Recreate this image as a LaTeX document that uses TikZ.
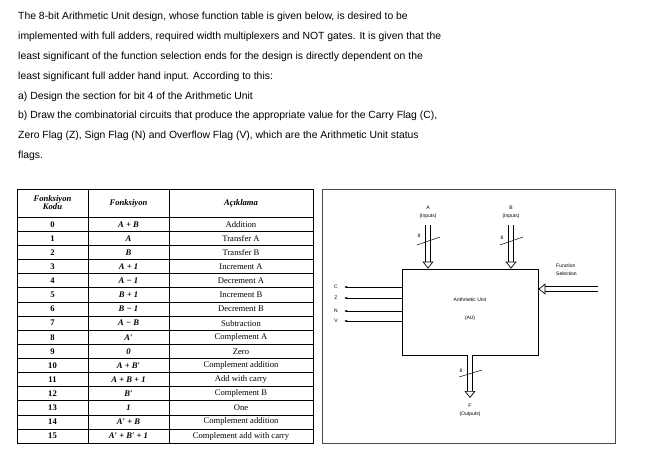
\documentclass[tikz,border=0pt]{standalone}
\usepackage{fontspec}
\setmainfont{Liberation Sans}
\newfontfamily\tabfont{Liberation Serif}
\usetikzlibrary{arrows.meta}
\tikzset{
  para/.style={anchor=west,inner sep=0pt,font=\fontsize{10.4}{12}\selectfont},
  cell/.style={inner sep=0pt,font=\tabfont\fontsize{8.6}{9}\selectfont},
  kc/.style={cell,font=\tabfont\bfseries\fontsize{8.6}{9}\selectfont},
  fc/.style={cell,font=\tabfont\bfseries\itshape\fontsize{8.6}{9}\selectfont},
  tl/.style={line width=0.6pt},
  tiny/.style={inner sep=0pt,font=\fontsize{5}{6}\selectfont},
  bus/.style={double,double distance=4pt,line width=0.7pt,-{Triangle[open,width=11pt,length=7pt]}},
  flag/.style={line width=0.6pt,-{Latex[length=3pt,width=2.5pt]}},
}
\begin{document}
\begin{tikzpicture}[x=1pt,y=-1pt]
\useasboundingbox (0,0) rectangle (646,469);
% paragraph
\node[para] (p1) at (18,17) {The 8-bit Arithmetic Unit design, whose function table is given below, is desired to be};
\node[para] (p2) at (18,37) {implemented with full adders, required width multiplexers and NOT gates. It is given that the};
\node[para] (p3) at (18,57) {least significant of the function selection ends for the design is directly dependent on the};
\node[para] (p4) at (18,77) {least significant full adder hand input. According to this:};
\node[para] (p5) at (18,97) {a) Design the section for bit 4 of the Arithmetic Unit};
\node[para] (p6) at (18,116) {b) Draw the combinatorial circuits that produce the appropriate value for the Carry Flag (C),};
\node[para] (p7) at (18,136) {Zero Flag (Z), Sign Flag (N) and Overflow Flag (V), which are the Arithmetic Unit status};
\node[para] (p8) at (18,156) {flags.};
% table
\draw[tl] (17,189) rectangle (313,443);
\draw[tl] (88,189) -- (88,443);
\draw[tl] (169,189) -- (169,443);
\draw[tl] (17,217) -- (313,217);
\foreach \i in {1,...,15} \draw[line width=0.4pt] (17,217+\i*14.125) -- (313,217+\i*14.125);
\node[fc,align=center] (h1) at (52.5,203) {Fonksiyon\\[-1pt]Kodu};
\node[fc] (h2) at (128.5,203) {Fonksiyon};
\node[fc] (h3) at (241,203) {Açıklama};
\node[kc] (c0) at (52.5,224.2) {0};   \node[fc] (f0) at (128.5,224.2) {A + B};      \node[cell] (d0) at (241,224.2) {Addition};
\node[kc] (c1) at (52.5,238.3) {1};   \node[fc] (f1) at (128.5,238.3) {A};          \node[cell] (d1) at (241,238.3) {Transfer A};
\node[kc] (c2) at (52.5,252.5) {2};   \node[fc] (f2) at (128.5,252.5) {B};          \node[cell] (d2) at (241,252.5) {Transfer B};
\node[kc] (c3) at (52.5,266.6) {3};   \node[fc] (f3) at (128.5,266.6) {A + 1};      \node[cell] (d3) at (241,266.6) {Increment A};
\node[kc] (c4) at (52.5,280.7) {4};   \node[fc] (f4) at (128.5,280.7) {A − 1};      \node[cell] (d4) at (241,280.7) {Decrement A};
\node[kc] (c5) at (52.5,294.8) {5};   \node[fc] (f5) at (128.5,294.8) {B + 1};      \node[cell] (d5) at (241,294.8) {Increment B};
\node[kc] (c6) at (52.5,308.9) {6};   \node[fc] (f6) at (128.5,308.9) {B − 1};      \node[cell] (d6) at (241,308.9) {Decrement B};
\node[kc] (c7) at (52.5,323.1) {7};   \node[fc] (f7) at (128.5,323.1) {A − B};      \node[cell] (d7) at (241,323.1) {Subtraction};
\node[kc] (c8) at (52.5,337.2) {8};   \node[fc] (f8) at (128.5,337.2) {A′};         \node[cell] (d8) at (241,337.2) {Complement A};
\node[kc] (c9) at (52.5,351.3) {9};   \node[fc] (f9) at (128.5,351.3) {0};          \node[cell] (d9) at (241,351.3) {Zero};
\node[kc] (c10) at (52.5,365.4) {10}; \node[fc] (f10) at (128.5,365.4) {A + B′};    \node[cell] (d10) at (241,365.4) {Complement addition};
\node[kc] (c11) at (52.5,379.6) {11}; \node[fc] (f11) at (128.5,379.6) {A + B + 1}; \node[cell] (d11) at (241,379.6) {Add with carry};
\node[kc] (c12) at (52.5,393.7) {12}; \node[fc] (f12) at (128.5,393.7) {B′};        \node[cell] (d12) at (241,393.7) {Complement B};
\node[kc] (c13) at (52.5,407.8) {13}; \node[fc] (f13) at (128.5,407.8) {1};         \node[cell] (d13) at (241,407.8) {One};
\node[kc] (c14) at (52.5,421.9) {14}; \node[fc] (f14) at (128.5,421.9) {A′ + B};    \node[cell] (d14) at (241,421.9) {Complement addition};
\node[kc] (c15) at (52.5,436.1) {15}; \node[fc] (f15) at (128.5,436.1) {A′ + B′ + 1}; \node[cell] (d15) at (241,436.1) {Complement add with carry};
% diagram frame
\draw[line width=0.8pt,black!70] (322,189) rectangle (615,443);
\node[draw,line width=0.8pt,minimum width=136pt,minimum height=86pt,inner sep=0pt] (au) at (470,312) {};
\node[tiny] (aut) at (470,300) {Arithmetic Unit};
\node[tiny] (aul) at (470,318) {(AU)};
% inputs
\node[tiny,align=center] (A) at (428,212) {A\\[2pt](Inputs)};
\node[tiny,align=center] (B) at (511,212) {B\\[2pt](Inputs)};
\coordinate (Ai) at (428,225);
\coordinate (Bi) at (511,225);
\draw[bus] (Ai) -- (Ai |- au.north);
\draw[bus] (Bi) -- (Bi |- au.north);
\draw[line width=0.5pt] (417,245) -- (440,237);
\draw[line width=0.5pt] (500,245) -- (523,237);
\node[tiny] (a8) at (419,236) {8};
\node[tiny] (b8) at (502,238) {8};
% function selection
\node[tiny,align=left,anchor=west] (fs) at (556,270) {Function\\[2pt]Selection};
\coordinate (fsi) at (598,289);
\draw[bus] (fsi) -- (au.east |- fsi);
% output
\coordinate (Fo) at (470,398);
\draw[bus] (au.south -| Fo) -- (Fo);
\draw[line width=0.5pt] (459,377) -- (482,370);
\node[tiny] (o8) at (461,371) {8};
\node[tiny,align=center] (F) at (470,410) {F\\[2pt](Outputs)};
% flags
\node[tiny] (flC) at (336,287) {C};
\node[tiny] (flZ) at (336,298) {Z};
\node[tiny] (flN) at (336,311) {N};
\node[tiny] (flV) at (336,321) {V};
\coordinate (eC) at (344,287);
\coordinate (eZ) at (344,298);
\coordinate (eN) at (344,311);
\coordinate (eV) at (344,321);
\draw[flag] (au.west |- eC) -- (eC);
\draw[flag] (au.west |- eZ) -- (eZ);
\draw[flag] (au.west |- eN) -- (eN);
\draw[flag] (au.west |- eV) -- (eV);
\end{tikzpicture}
\end{document}
